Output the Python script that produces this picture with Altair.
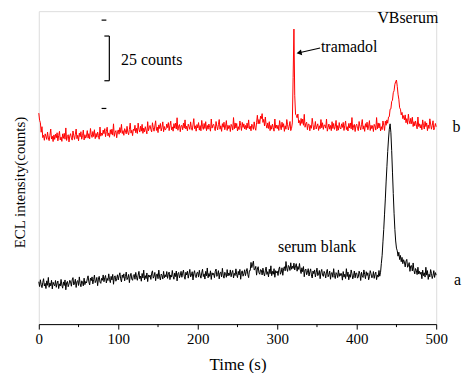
import altair as alt
import pandas as pd

# ---------------- data ----------------
time_s = list(range(0, 501, 1))

# curve a: serum blank (black), counts, one value per second
blank_a = [
    23.7, 21.0, 24.8, 22.1, 20.4, 23.3, 25.4, 21.3, 22.8, 19.9, 24.2, 21.7, 26.1, 20.6, 23.0, 21.4, 24.5, 19.7, 23.4, 22.2,
    21.4, 24.4, 20.6, 22.9, 24.1, 19.9, 22.5, 21.3, 25.0, 21.8, 20.1, 23.6, 21.6, 24.7, 19.2, 23.2, 23.9, 20.9, 22.4, 24.5,
    23.6, 21.2, 24.7, 26.0, 21.9, 23.0, 25.1, 20.5, 23.9, 24.3, 21.6, 26.4, 22.6, 20.9, 24.2, 23.5, 21.4, 25.7, 22.1, 23.8,
    23.0, 25.3, 27.0, 23.6, 21.9, 25.8, 24.3, 26.4, 22.5, 24.9, 27.4, 23.2, 24.1, 26.1, 21.5, 25.2, 26.7, 23.5, 22.8, 25.6,
    24.5, 27.5, 23.7, 26.0, 27.2, 23.0, 25.6, 24.4, 28.1, 24.9, 23.2, 26.7, 24.7, 27.8, 22.3, 26.3, 27.0, 24.0, 25.5, 27.6,
    24.7, 27.0, 28.7, 25.3, 23.6, 27.5, 26.0, 28.1, 24.2, 26.6, 29.1, 24.9, 25.8, 27.8, 23.2, 26.9, 28.4, 25.2, 24.5, 27.3,
    27.8, 25.1, 28.9, 26.2, 24.5, 27.4, 29.5, 25.4, 26.9, 24.0, 28.3, 25.8, 30.2, 24.7, 27.1, 25.5, 28.6, 23.8, 27.5, 26.3,
    27.4, 25.0, 28.5, 29.8, 25.7, 26.8, 28.9, 24.3, 27.7, 28.1, 25.4, 30.2, 26.4, 24.7, 28.0, 27.3, 25.2, 29.5, 25.9, 27.6,
    26.4, 29.4, 25.6, 27.9, 29.1, 24.9, 27.5, 26.3, 30.0, 26.8, 25.1, 28.6, 26.6, 29.7, 24.2, 28.2, 28.9, 25.9, 27.4, 29.5,
    26.2, 28.5, 30.2, 26.8, 25.1, 29.0, 27.5, 29.6, 25.7, 28.1, 30.6, 26.4, 27.3, 29.3, 24.7, 28.4, 29.9, 26.7, 26.0, 28.8,
    29.0, 26.3, 30.1, 27.4, 25.7, 28.6, 30.7, 26.6, 28.1, 25.2, 29.5, 27.0, 31.4, 25.9, 28.3, 26.7, 29.8, 25.0, 28.7, 27.5,
    28.4, 26.0, 29.5, 30.8, 26.7, 27.8, 29.9, 25.3, 28.7, 29.1, 26.4, 31.2, 27.4, 25.7, 29.0, 28.3, 26.2, 30.5, 26.9, 28.6,
    27.3, 30.3, 26.5, 28.8, 30.0, 25.8, 28.4, 27.2, 30.9, 27.7, 26.0, 29.5, 27.5, 30.6, 25.1, 29.1, 29.8, 26.8, 28.3, 30.4,
    27.1, 29.4, 31.1, 27.7, 26.0, 29.9, 29.9, 34.5, 31.6, 33.5, 35.2, 30.3, 30.7, 32.3, 27.4, 30.8, 32.1, 28.7, 27.9, 30.5,
    30.2, 27.5, 31.3, 28.6, 26.9, 29.8, 31.9, 27.8, 29.3, 26.4, 30.7, 28.2, 32.6, 27.1, 29.5, 27.9, 31.0, 26.2, 29.9, 28.7,
    29.6, 27.2, 30.7, 32.0, 27.9, 29.0, 31.5, 27.3, 31.2, 32.1, 29.8, 35.0, 31.2, 29.5, 32.8, 32.1, 30.0, 34.3, 30.7, 32.4,
    31.1, 34.1, 30.3, 32.6, 33.8, 29.6, 32.2, 30.6, 33.9, 30.3, 28.3, 31.5, 29.3, 32.2, 26.5, 30.3, 30.8, 27.6, 29.0, 31.0,
    26.9, 29.2, 30.9, 27.5, 25.8, 29.7, 28.2, 30.3, 26.4, 28.8, 31.3, 27.1, 28.0, 30.0, 25.4, 29.1, 30.6, 27.4, 26.7, 29.5,
    28.2, 25.8, 29.3, 30.6, 26.5, 27.6, 29.7, 25.1, 28.5, 28.9, 26.2, 31.0, 27.2, 25.5, 28.8, 28.1, 26.0, 30.3, 26.7, 28.4,
    27.1, 28.3, 24.6, 29.4, 26.3, 27.9, 25.5, 31.0, 26.6, 29.1, 24.8, 27.7, 26.2, 30.3, 28.2, 25.3, 27.0, 29.7, 25.9, 28.6,
    28.5, 25.7, 26.4, 29.6, 28.1, 24.4, 29.0, 27.0, 26.1, 30.3, 27.8, 25.4, 29.3, 27.2, 28.7, 24.8, 26.5, 29.9, 28.2, 25.9,
    26.4, 29.4, 25.6, 27.9, 29.1, 24.9, 27.5, 26.3, 30.0, 26.8, 29.0, 34.0, 38.5, 46.0, 53.0, 61.5, 70.0, 79.5, 88.0, 96.5,
    103.5, 109.0, 112.0, 107.0, 97.0, 85.0, 73.0, 62.0, 53.0, 46.5, 42.5, 41.0, 38.0, 40.2, 36.1, 38.4, 34.9, 37.3, 33.8, 36.0,
    34.7, 32.0, 35.2, 36.2, 31.8, 32.6, 34.4, 29.5, 32.6, 32.7, 29.7, 34.2, 30.1, 28.1, 31.1, 30.1, 27.7, 31.8, 28.0, 29.5,
    27.9, 29.1, 25.4, 30.2, 27.1, 28.7, 26.3, 31.8, 27.4, 29.9, 25.0, 27.9, 26.4, 30.5, 28.4, 25.5, 27.2, 29.9, 26.1, 28.8,
    27.4,
]

# curve b: VB serum with tramadol (red), counts, one value per second
serum_b = [
    118.0, 114.0, 112.6, 107.3, 110.4, 104.3, 105.6, 102.8, 106.4, 105.0, 103.3, 107.4, 104.1, 102.6, 105.6, 109.1, 103.5, 105.1, 102.1, 105.8,
    103.3, 106.2, 104.2, 107.0, 102.5, 105.4, 107.8, 103.0, 104.6, 102.2, 106.4, 103.9, 106.7, 103.4, 109.7, 102.7, 105.0, 105.9, 101.9, 105.2,
    106.5, 104.2, 102.9, 108.0, 105.3, 103.3, 106.2, 109.1, 103.7, 105.6, 102.5, 106.8, 104.8, 107.6, 103.4, 105.4, 108.5, 103.0, 105.9, 104.0,
    105.2, 108.2, 104.0, 106.5, 103.6, 109.4, 105.9, 104.4, 107.7, 104.9, 108.7, 103.7, 106.6, 104.5, 107.4, 105.4, 103.4, 110.2, 105.1, 106.8,
    105.6, 108.5, 106.5, 109.3, 104.8, 107.7, 110.1, 105.3, 106.9, 104.5, 108.7, 106.2, 109.0, 105.7, 112.0, 105.0, 107.3, 108.2, 104.2, 107.5,
    108.6, 106.2, 109.9, 107.1, 111.7, 106.6, 108.2, 105.6, 109.3, 108.0, 106.4, 110.6, 107.3, 105.9, 108.9, 112.4, 106.8, 108.4, 105.4, 109.1,
    108.2, 111.2, 107.0, 109.5, 106.6, 112.4, 108.9, 107.4, 110.7, 107.9, 111.7, 106.7, 109.6, 107.5, 110.4, 108.4, 106.4, 113.2, 108.1, 109.8,
    111.1, 108.8, 107.5, 112.6, 109.9, 107.9, 110.8, 113.7, 108.3, 110.2, 107.1, 111.4, 109.4, 112.2, 108.0, 110.0, 113.1, 107.6, 110.5, 108.6,
    109.0, 111.9, 109.9, 112.7, 108.2, 111.1, 113.5, 108.7, 110.3, 107.9, 112.1, 109.6, 112.4, 109.1, 115.4, 108.4, 110.7, 111.6, 107.6, 110.9,
    111.1, 108.7, 112.4, 109.6, 114.2, 109.1, 110.7, 108.1, 111.8, 110.5, 108.9, 113.1, 109.8, 108.4, 111.4, 114.9, 109.3, 110.9, 107.9, 111.6,
    109.7, 112.7, 108.5, 111.0, 108.1, 113.9, 110.4, 108.9, 112.2, 109.4, 113.2, 108.2, 111.1, 109.0, 111.9, 109.9, 107.9, 114.7, 109.6, 111.3,
    111.8, 109.5, 108.2, 113.3, 110.6, 108.6, 111.5, 114.4, 109.0, 110.9, 107.8, 112.1, 110.1, 112.9, 108.7, 110.7, 113.8, 108.3, 111.2, 109.3,
    111.0, 107.7, 111.7, 110.8, 108.5, 115.5, 109.2, 112.5, 109.7, 112.2, 108.0, 110.4, 108.8, 113.6, 111.2, 108.3, 112.8, 110.0, 112.0, 109.1,
    111.1, 108.7, 112.4, 109.6, 114.2, 109.1, 110.7, 108.1, 111.8, 110.5, 108.9, 113.1, 109.8, 108.4, 112.6, 116.8, 112.0, 114.4, 112.1, 116.3,
    114.9, 117.7, 112.8, 114.5, 110.8, 115.8, 111.6, 109.6, 112.5, 109.4, 113.2, 108.2, 111.1, 109.0, 111.9, 109.9, 107.9, 114.7, 109.6, 111.3,
    109.3, 111.2, 108.3, 113.8, 110.7, 108.7, 112.9, 110.1, 112.1, 107.8, 110.9, 109.0, 114.4, 111.5, 108.6, 110.6, 113.3, 108.2, 109.5, 112.5,
    138.0, 165.0, 128.0, 117.5, 116.8, 115.4, 117.5, 112.5, 113.8, 111.1, 115.0, 112.2, 114.7, 111.2, 117.3, 110.1, 112.2, 112.9, 108.7, 111.8,
    111.8, 108.1, 111.1, 109.5, 115.1, 111.6, 108.6, 110.0, 113.3, 109.1, 110.7, 112.0, 108.3, 110.9, 109.3, 114.4, 109.8, 112.6, 108.9, 111.3,
    111.3, 109.6, 114.7, 107.9, 109.9, 111.9, 109.0, 111.1, 108.2, 113.2, 109.4, 112.2, 108.9, 110.4, 113.9, 108.1, 111.0, 108.5, 112.7, 109.7,
    109.1, 112.0, 110.0, 112.8, 108.3, 111.2, 113.6, 108.8, 110.4, 108.0, 112.2, 109.7, 112.5, 109.2, 115.5, 108.5, 110.8, 111.7, 107.7, 111.0,
    111.8, 109.5, 108.2, 113.3, 110.6, 108.6, 111.5, 114.4, 109.0, 110.9, 107.8, 112.1, 110.1, 112.9, 108.7, 110.7, 113.8, 108.3, 111.2, 109.3,
    111.0, 107.7, 111.7, 110.8, 108.5, 115.5, 109.2, 112.5, 109.7, 112.2, 108.0, 110.4, 108.8, 113.6, 111.2, 108.3, 113.5, 111.2, 114.2, 112.3,
    115.8, 116.0, 120.2, 120.4, 124.5, 125.2, 129.4, 130.5, 134.1, 135.5, 136.5, 133.0, 128.6, 125.8, 121.0, 120.2, 117.0, 118.4, 114.9, 116.6,
    114.2, 117.0, 112.6, 114.9, 111.8, 117.4, 113.7, 112.0, 115.1, 112.1, 115.7, 110.5, 113.2, 110.9, 113.6, 111.4, 109.2, 115.8, 110.5, 112.0,
    109.7, 111.6, 108.7, 114.2, 111.1, 109.1, 113.3, 110.5, 112.5, 108.2, 111.3, 109.4, 114.8, 111.9, 109.0, 111.0, 113.7, 108.6, 109.9, 112.2,
    110.4,
]

# annotations (data coordinates: time s, counts)
note_text = ["VBserum", "tramadol", "25 counts", "serum blank", "a", "b"]
note_t = [426, 355, 103.5, 301, 522.5, 520.5]
note_v = [168.3, 152.2, 145.0, 40.6, 21.7, 107.2]

# scale bar, small dashes and arrow shaft segments: (t1, v1, t2, v2)
seg_t1 = [88.75, 82.5, 82.5, 79.0, 79.0, 354.0]
seg_v1 = [136.1, 161.1, 136.1, 170.0, 120.6, 154.4]
seg_t2 = [88.75, 88.75, 88.75, 85.0, 85.0, 329.0]
seg_v2 = [161.1, 161.1, 136.1, 170.0, 120.6, 151.9]

arrow_head_t = [327.5]
arrow_head_v = [151.7]

x_major = [0, 100, 200, 300, 400, 500]
x_minor = [50, 150, 250, 350, 450]

FONT = "Liberation Serif"

df_a = pd.DataFrame({"t": time_s, "v": blank_a})
df_b = pd.DataFrame({"t": time_s, "v": serum_b})
df_note = pd.DataFrame({"t": note_t, "v": note_v, "label": note_text})
df_seg = pd.DataFrame({"t1": seg_t1, "v1": seg_v1, "t2": seg_t2, "v2": seg_v2})
df_head = pd.DataFrame({"t": arrow_head_t, "v": arrow_head_v})
df_minor = pd.DataFrame({"t": x_minor})

xs = alt.Scale(domain=[0, 500], nice=False, zero=False)
ys = alt.Scale(domain=[0, 175], nice=False, zero=False)

x_axis = alt.Axis(
    values=x_major, tickSize=5, tickColor="black", domainColor="black",
    labelFont=FONT, labelFontSize=15, labelColor="black", labelPadding=3,
    title="Time (s)", titleFont=FONT, titleFontSize=17, titleFontWeight="normal",
    titleColor="black", titlePadding=10, grid=False, labelFlush=False,
)
y_axis = alt.Axis(
    domain=False, ticks=False, labels=False, grid=False,
    title="ECL intensity(counts)", titleFont=FONT, titleFontSize=15,
    titleFontWeight="normal", titleColor="black", titlePadding=11, titleY=172,
)

line_a = alt.Chart(df_a).mark_line(color="black", strokeWidth=1).encode(
    x=alt.X("t:Q", scale=xs, axis=x_axis),
    y=alt.Y("v:Q", scale=ys, axis=y_axis),
)
line_b = alt.Chart(df_b).mark_line(color="#ff0000", strokeWidth=1).encode(
    x=alt.X("t:Q", scale=xs),
    y=alt.Y("v:Q", scale=ys),
)
minor = alt.Chart(df_minor).mark_rule(color="black", strokeWidth=1).encode(
    x=alt.X("t:Q", scale=xs),
    y=alt.value(315),
    y2=alt.value(318),
)
segs = alt.Chart(df_seg).mark_rule(color="black", strokeWidth=1.2).encode(
    x=alt.X("t1:Q", scale=xs), x2="t2:Q",
    y=alt.Y("v1:Q", scale=ys), y2="v2:Q",
)
head = alt.Chart(df_head).mark_point(
    shape="triangle-left", filled=True, color="black", size=35, angle=348, opacity=1
).encode(
    x=alt.X("t:Q", scale=xs),
    y=alt.Y("v:Q", scale=ys),
)
notes = alt.Chart(df_note).mark_text(
    font=FONT, fontSize=16, color="black", align="left", baseline="alphabetic"
).encode(
    x=alt.X("t:Q", scale=xs),
    y=alt.Y("v:Q", scale=ys),
    text="label:N",
)

chart = alt.layer(line_a, line_b, minor, segs, head, notes).properties(
    width=400,
    height=315,
    autosize=alt.AutoSizeParams(type="none"),
    padding={"left": 31, "top": 2, "right": 30, "bottom": 48},
).configure_view(stroke=None).configure(background="white")

chart.save("out.html", embed_options={"renderer": "svg", "actions": False})
